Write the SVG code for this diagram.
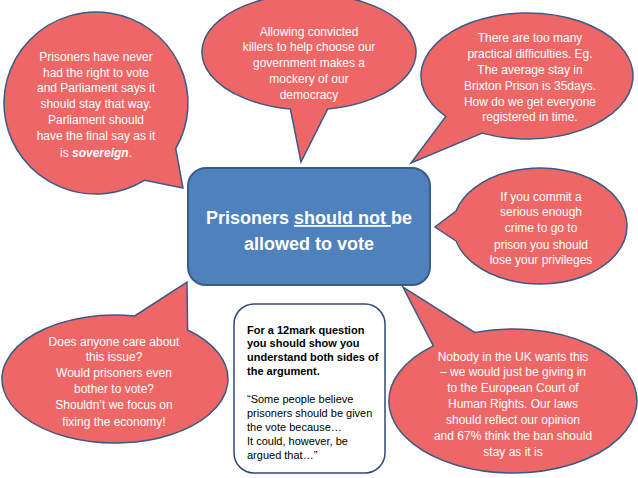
<svg xmlns="http://www.w3.org/2000/svg" width="638" height="478" viewBox="0 0 638 478">
<style>
.b{fill:#ee6767;stroke:#3b5a87;stroke-width:1.5}
.t{font-family:"Liberation Sans",Arial,sans-serif;font-size:12px;fill:#fff;text-anchor:middle}
.k{font-family:"Liberation Sans",Arial,sans-serif;font-size:11px;fill:#000}
</style>
<rect width="638" height="478" fill="#fff"/>
<g id="connectors"/>
<g id="bubble1"><path class="b" d="M175.7 148.5 L183 188 L144.8 180.2 A92 91 0 1 1 175.7 148.5 Z"/>
<text class="t"><tspan x="96" y="61">Prisoners have never</tspan><tspan x="96" y="77">had the right to vote</tspan><tspan x="96" y="92">and Parliament says it</tspan><tspan x="96" y="108">should stay that way.</tspan><tspan x="96" y="124">Parliament should</tspan><tspan x="96" y="140">have the final say as it</tspan><tspan x="96" y="157">is <tspan font-weight="bold" font-style="italic">sovereign</tspan>.</tspan></text></g>
<g id="bubble2"><path class="b" d="M327.6 109.1 L301 162 L290.4 109.1 A107 58 0 1 1 327.6 109.1 Z"/>
<text class="t"><tspan x="309" y="36">Allowing convicted</tspan><tspan x="309" y="51">killers to help choose our</tspan><tspan x="309" y="67">government makes a</tspan><tspan x="309" y="83">mockery of our</tspan><tspan x="309" y="99">democracy</tspan></text></g>
<g id="bubble3"><path class="b" d="M482.2 133.1 L411 163 L445.8 116.5 A106 63 0 1 1 482.2 133.1 Z"/>
<text class="t"><tspan x="530" y="42">There are too many</tspan><tspan x="530" y="58">practical difficulties. Eg.</tspan><tspan x="530" y="74">The average stay in</tspan><tspan x="530" y="90">Brixton Prison is 35days.</tspan><tspan x="530" y="106">How do we get everyone</tspan><tspan x="530" y="121">registered in time.</tspan></text></g>
<g id="bubble4"><path class="b" d="M456 241 L435 227 L456 211 A87 58 0 1 1 456 241 Z"/>
<text class="t"><tspan x="541" y="201">If you commit a</tspan><tspan x="541" y="216">serious enough</tspan><tspan x="541" y="232">crime to go to</tspan><tspan x="541" y="249">prison you should</tspan><tspan x="541" y="264">lose your privileges</tspan></text></g>
<g id="center"><rect x="188" y="168" width="242" height="117" rx="18" fill="#4f81bd" stroke="#385d8a" stroke-width="2"/>
<text font-family="Liberation Sans,Arial,sans-serif" font-size="18" font-weight="bold" fill="#fff" text-anchor="middle"><tspan x="309" y="224">Prisoners <tspan text-decoration="underline">should not </tspan>be</tspan><tspan x="309" y="250">allowed to vote</tspan></text></g>
<g id="bubble5"><path class="b" d="M134.6 316 L187 282 L187.6 330 A113 64 0 1 1 134.6 316 Z"/>
<text class="t"><tspan x="114" y="346">Does anyone care about</tspan><tspan x="114" y="361">this issue?</tspan><tspan x="114" y="377">Would prisoners even</tspan><tspan x="114" y="393">bother to vote?</tspan><tspan x="114" y="409">Shouldn’t we focus on</tspan><tspan x="114" y="426">fixing the economy!</tspan></text></g>
<g id="note"><rect x="234" y="304" width="151" height="169" rx="20" fill="#fff" stroke="#2f4a78" stroke-width="1.5"/>
<text class="k"><tspan x="247" y="334" font-weight="bold">For a 12mark question</tspan><tspan x="247" y="347" font-weight="bold">you should show you</tspan><tspan x="247" y="361" font-weight="bold">understand both sides of</tspan><tspan x="247" y="375" font-weight="bold">the argument.</tspan><tspan x="247" y="403">“Some people believe</tspan><tspan x="247" y="417">prisoners should be given</tspan><tspan x="247" y="431">the vote because…</tspan><tspan x="247" y="445">It could, however, be</tspan><tspan x="247" y="459">argued that…”</tspan></text></g>
<g id="bubble6"><path class="b" d="M433.3 345.8 L403 287 L474.7 332.5 A124 72 0 1 1 433.3 345.8 Z"/>
<text class="t"><tspan x="513" y="361">Nobody in the UK wants this</tspan><tspan x="513" y="376">– we would just be giving in</tspan><tspan x="513" y="392">to the European Court of</tspan><tspan x="513" y="408">Human Rights. Our laws</tspan><tspan x="513" y="424">should reflect our opinion</tspan><tspan x="513" y="440">and 67% think the ban should</tspan><tspan x="513" y="456">stay as it is</tspan></text></g>
</svg>
